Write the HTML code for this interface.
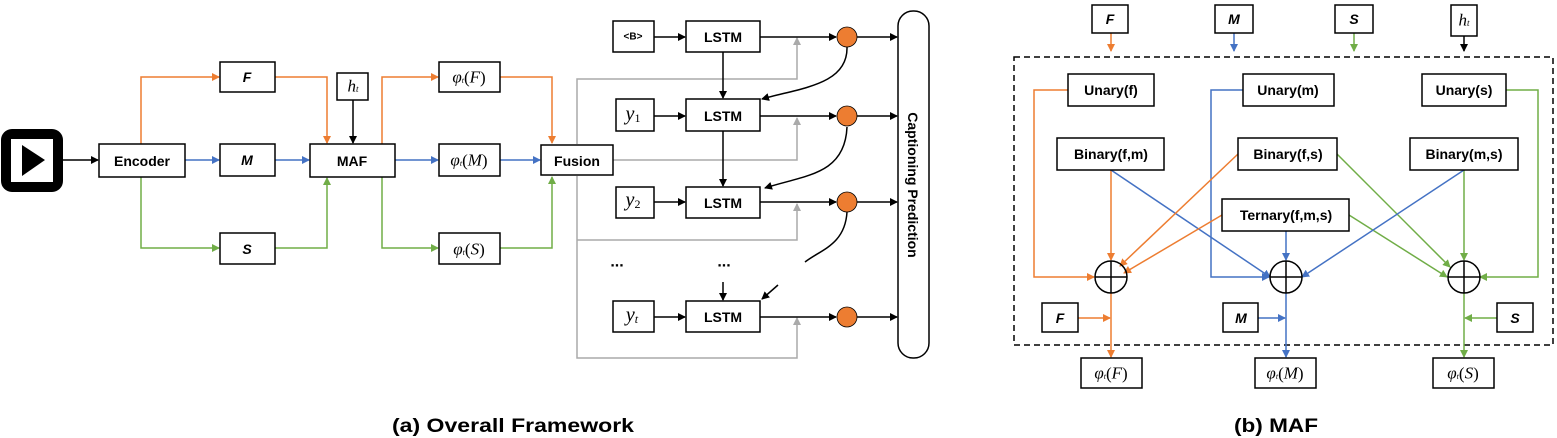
<!DOCTYPE html>
<html><head><meta charset="utf-8"><style>
html,body{margin:0;padding:0;background:#fff}
svg{display:block}
.b{font-family:"Liberation Sans",sans-serif;font-weight:bold;font-size:14px;text-anchor:middle;dominant-baseline:central}
.m{font-family:"Liberation Serif",serif;font-style:italic;font-size:17px;text-anchor:middle;dominant-baseline:central}
</style></head><body>
<svg width="1557" height="438" viewBox="0 0 1557 438" xmlns="http://www.w3.org/2000/svg">
<defs>
<marker id="ak" markerWidth="8" markerHeight="8" refX="7" refY="4" orient="auto" markerUnits="userSpaceOnUse"><path d="M0,0L8,4L0,8z" fill="#000"/></marker>
<marker id="ao" markerWidth="8" markerHeight="8" refX="7" refY="4" orient="auto" markerUnits="userSpaceOnUse"><path d="M0,0L8,4L0,8z" fill="#ED7D31"/></marker>
<marker id="ab" markerWidth="8" markerHeight="8" refX="7" refY="4" orient="auto" markerUnits="userSpaceOnUse"><path d="M0,0L8,4L0,8z" fill="#4472C4"/></marker>
<marker id="ag" markerWidth="8" markerHeight="8" refX="7" refY="4" orient="auto" markerUnits="userSpaceOnUse"><path d="M0,0L8,4L0,8z" fill="#70AD47"/></marker>
<marker id="ay" markerWidth="8" markerHeight="8" refX="7" refY="4" orient="auto" markerUnits="userSpaceOnUse"><path d="M0,0L8,4L0,8z" fill="#aaa"/></marker>
</defs>
<g fill="none" stroke-width="1.5">
<!-- play icon -->
<rect x="1" y="129" width="62" height="63" rx="11" fill="#000" stroke="none"/>
<rect x="11" y="139" width="42" height="43" fill="#fff" stroke="none"/>
<path d="M22,145L45,160L22,176z" fill="#000" stroke="none"/>
<path d="M63,160H98" stroke="#000" marker-end="url(#ak)"/>
<!-- left colored -->
<path d="M141,144V77H219" stroke="#ED7D31" marker-end="url(#ao)"/>
<path d="M185,160H219" stroke="#4472C4" marker-end="url(#ab)"/>
<path d="M141,177V248H219" stroke="#70AD47" marker-end="url(#ag)"/>
<path d="M275,77H327V143" stroke="#ED7D31" marker-end="url(#ao)"/>
<path d="M275,160H309" stroke="#4472C4" marker-end="url(#ab)"/>
<path d="M275,248H327V178" stroke="#70AD47" marker-end="url(#ag)"/>
<path d="M353,100V143" stroke="#000" marker-end="url(#ak)"/>
<path d="M382,144V77H438" stroke="#ED7D31" marker-end="url(#ao)"/>
<path d="M395,160H438" stroke="#4472C4" marker-end="url(#ab)"/>
<path d="M382,177V248H438" stroke="#70AD47" marker-end="url(#ag)"/>
<path d="M500,77H552V143" stroke="#ED7D31" marker-end="url(#ao)"/>
<path d="M500,160H540" stroke="#4472C4" marker-end="url(#ab)"/>
<path d="M500,248H552V177" stroke="#70AD47" marker-end="url(#ag)"/>
<!-- gray -->
<path d="M577,144V79H797V38" stroke="#aaa" marker-end="url(#ay)"/>
<path d="M613,160H797V118" stroke="#aaa" marker-end="url(#ay)"/>
<path d="M577,176V358H797V318" stroke="#aaa" marker-end="url(#ay)"/>
<path d="M577,240H797V204" stroke="#aaa" marker-end="url(#ay)"/>
<!-- LSTM rows -->
<g stroke="#000">
<path d="M654,37H685" marker-end="url(#ak)"/>
<path d="M654,116H685" marker-end="url(#ak)"/>
<path d="M654,202H685" marker-end="url(#ak)"/>
<path d="M654,317H685" marker-end="url(#ak)"/>
<path d="M760,37H836" marker-end="url(#ak)"/>
<path d="M760,116H836" marker-end="url(#ak)"/>
<path d="M760,202H836" marker-end="url(#ak)"/>
<path d="M760,317H836" marker-end="url(#ak)"/>
<path d="M857,37H897" marker-end="url(#ak)"/>
<path d="M857,116H897" marker-end="url(#ak)"/>
<path d="M857,202H897" marker-end="url(#ak)"/>
<path d="M857,317H897" marker-end="url(#ak)"/>
<path d="M723,52V98" marker-end="url(#ak)"/>
<path d="M723,131V186" marker-end="url(#ak)"/>
<path d="M723,282V300" marker-end="url(#ak)"/>
<path d="M847,47C848,85 800,88 762,99" marker-end="url(#ak)"/>
<path d="M847,127C845,175 805,175 765,188" marker-end="url(#ak)"/>
<path d="M847,212C845,245 820,250 805,262"/>
<path d="M778,285L762,299" marker-end="url(#ak)"/>
</g>
<!-- MAF right -->
<path d="M1111,33V51" stroke="#ED7D31" marker-end="url(#ao)"/>
<path d="M1234,33V51" stroke="#4472C4" marker-end="url(#ab)"/>
<path d="M1354,33V51" stroke="#70AD47" marker-end="url(#ag)"/>
<path d="M1464,36V51" stroke="#000" marker-end="url(#ak)"/>
<rect x="1014" y="57" width="539" height="288" stroke="#000" stroke-dasharray="6,4"/>
<path d="M1068,90H1034V277H1094" stroke="#ED7D31" marker-end="url(#ao)"/>
<path d="M1243,90H1211V277H1269" stroke="#4472C4" marker-end="url(#ab)"/>
<path d="M1506,90H1538V277H1480" stroke="#70AD47" marker-end="url(#ag)"/>
<path d="M1111,170V260" stroke="#ED7D31" marker-end="url(#ao)"/>
<path d="M1111,170L1270,277" stroke="#4472C4" marker-end="url(#ab)"/>
<path d="M1238,154L1120,266" stroke="#ED7D31" marker-end="url(#ao)"/>
<path d="M1337,154L1450,267" stroke="#70AD47" marker-end="url(#ag)"/>
<path d="M1222,215L1124,273" stroke="#ED7D31" marker-end="url(#ao)"/>
<path d="M1286,231V260" stroke="#4472C4" marker-end="url(#ab)"/>
<path d="M1349,215L1447,277" stroke="#70AD47" marker-end="url(#ag)"/>
<path d="M1464,170V260" stroke="#70AD47" marker-end="url(#ag)"/>
<path d="M1464,170L1302,277" stroke="#4472C4" marker-end="url(#ab)"/>
<path d="M1111,293V357" stroke="#ED7D31" marker-end="url(#ao)"/>
<path d="M1286,293V357" stroke="#4472C4" marker-end="url(#ab)"/>
<path d="M1464,293V357" stroke="#70AD47" marker-end="url(#ag)"/>
<path d="M1078,318H1110" stroke="#ED7D31" marker-end="url(#ao)"/>
<path d="M1258,318H1285" stroke="#4472C4" marker-end="url(#ab)"/>
<path d="M1497,318H1465" stroke="#70AD47" marker-end="url(#ag)"/>
<g stroke="#000">
<circle cx="1111" cy="277" r="16"/><path d="M1095,277H1127M1111,261V293"/>
<circle cx="1286" cy="277" r="16"/><path d="M1270,277H1302M1286,261V293"/>
<circle cx="1464" cy="277" r="16"/><path d="M1448,277H1480M1464,261V293"/>
</g>
<!-- circles -->
<g fill="#ED7D31" stroke="#000" stroke-width="0.8">
<circle cx="847" cy="37" r="10"/><circle cx="847" cy="116" r="10"/><circle cx="847" cy="202" r="10"/><circle cx="847" cy="317" r="10"/>
</g>
<rect x="898" y="11" width="31" height="347" rx="15" stroke="#000" fill="#fff"/>
<!-- boxes -->
<g stroke="#000" fill="#fff">
<rect x="99" y="144" width="86" height="33"/>
<rect x="220" y="62" width="55" height="30"/><rect x="220" y="144" width="55" height="32"/><rect x="220" y="233" width="55" height="31"/>
<rect x="337" y="73" width="31" height="27"/>
<rect x="310" y="144" width="85" height="33"/>
<rect x="439" y="62" width="61" height="30"/><rect x="439" y="144" width="61" height="32"/><rect x="439" y="233" width="61" height="31"/>
<rect x="541" y="145" width="72" height="30"/>
<rect x="613" y="21" width="41" height="31"/><rect x="616" y="99" width="38" height="32"/><rect x="616" y="187" width="38" height="31"/><rect x="613" y="301" width="41" height="31"/>
<rect x="686" y="21" width="74" height="31"/><rect x="686" y="99" width="74" height="32"/><rect x="686" y="187" width="74" height="31"/><rect x="686" y="301" width="74" height="31"/>
<rect x="1092" y="5" width="36" height="28"/><rect x="1215" y="5" width="38" height="28"/><rect x="1335" y="5" width="38" height="28"/><rect x="1451" y="5" width="26" height="31"/>
<rect x="1068" y="74" width="86" height="32"/><rect x="1243" y="74" width="91" height="32"/><rect x="1422" y="74" width="84" height="32"/>
<rect x="1057" y="138" width="107" height="32"/><rect x="1238" y="138" width="99" height="32"/><rect x="1410" y="138" width="108" height="32"/>
<rect x="1222" y="199" width="127" height="32"/>
<rect x="1042" y="303" width="36" height="29"/><rect x="1223" y="303" width="35" height="29"/><rect x="1497" y="303" width="36" height="29"/>
<rect x="1081" y="358" width="61" height="30"/><rect x="1255" y="358" width="61" height="30"/><rect x="1433" y="358" width="61" height="30"/>
</g>
</g>
<g class="b">
<text x="142" y="161">Encoder</text>
<text x="247" y="77" font-style="italic">F</text><text x="247" y="160" font-style="italic">M</text><text x="247" y="249" font-style="italic">S</text>
<text x="352" y="161">MAF</text>
<text x="577" y="161">Fusion</text>
<text x="633" y="37" font-size="10">&lt;B&gt;</text>
<text x="723" y="37">LSTM</text><text x="723" y="116">LSTM</text><text x="723" y="203">LSTM</text><text x="723" y="317">LSTM</text>
<text x="617" y="262" font-size="16">...</text><text x="724" y="262" font-size="16">...</text>
<text transform="translate(913,185) rotate(90)" font-size="14">Captioning Prediction</text>
<text x="1110" y="19" font-style="italic">F</text><text x="1234" y="19" font-style="italic">M</text><text x="1354" y="19" font-style="italic">S</text>
<text x="1111" y="90">Unary(f)</text><text x="1288" y="90">Unary(m)</text><text x="1464" y="90">Unary(s)</text>
<text x="1111" y="154">Binary(f,m)</text><text x="1288" y="154">Binary(f,s)</text><text x="1464" y="154">Binary(m,s)</text>
<text x="1286" y="215">Ternary(f,m,s)</text>
<text x="1060" y="318" font-style="italic">F</text><text x="1241" y="318" font-style="italic">M</text><text x="1515" y="318" font-style="italic">S</text>
</g>
<g class="m">
<text x="353" y="86">h<tspan font-size="9" dy="3">t</tspan></text>
<text x="1464" y="20">h<tspan font-size="9" dy="3">t</tspan></text>
<text x="469" y="77">φ<tspan font-size="8" dy="3">t</tspan><tspan dy="-3" font-style="normal">(</tspan>F<tspan font-style="normal">)</tspan></text>
<text x="469" y="160">φ<tspan font-size="8" dy="3">t</tspan><tspan dy="-3" font-style="normal">(</tspan>M<tspan font-style="normal">)</tspan></text>
<text x="469" y="249">φ<tspan font-size="8" dy="3">t</tspan><tspan dy="-3" font-style="normal">(</tspan>S<tspan font-style="normal">)</tspan></text>
<text x="1111" y="373">φ<tspan font-size="8" dy="3">t</tspan><tspan dy="-3" font-style="normal">(</tspan>F<tspan font-style="normal">)</tspan></text>
<text x="1285" y="373">φ<tspan font-size="8" dy="3">t</tspan><tspan dy="-3" font-style="normal">(</tspan>M<tspan font-style="normal">)</tspan></text>
<text x="1463" y="373">φ<tspan font-size="8" dy="3">t</tspan><tspan dy="-3" font-style="normal">(</tspan>S<tspan font-style="normal">)</tspan></text>
<text x="633" y="114" font-size="20">y<tspan font-size="12" dy="4" font-style="normal">1</tspan></text>
<text x="633" y="200" font-size="20">y<tspan font-size="12" dy="4" font-style="normal">2</tspan></text>
<text x="632" y="315" font-size="20">y<tspan font-size="12" dy="4">t</tspan></text>
</g>
<text x="392" y="432" font-family="Liberation Sans,sans-serif" font-weight="bold" font-size="19" textLength="242" lengthAdjust="spacingAndGlyphs">(a) Overall Framework</text>
<text x="1234" y="432" font-family="Liberation Sans,sans-serif" font-weight="bold" font-size="19" textLength="84" lengthAdjust="spacingAndGlyphs">(b) MAF</text>
</svg>
</body></html>
